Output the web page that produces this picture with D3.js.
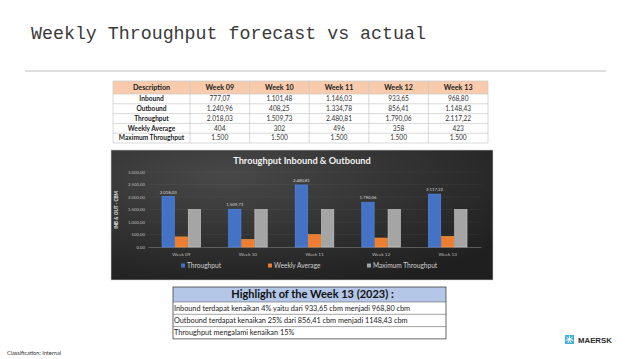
<!DOCTYPE html>
<html>
<head>
<meta charset="utf-8">
<script src="https://cdn.jsdelivr.net/npm/d3@7"></script>
<style>
  body { margin: 0; background: #fff; }
  svg { display: block; }
</style>
</head>
<body>
<script>
// data
var weeks = ["Week 09", "Week 10", "Week 11", "Week 12", "Week 13"];
var inbound = [777.07, 1101.48, 1146.03, 933.65, 968.80];
var outbound = [1240.96, 408.25, 1334.78, 856.41, 1148.43];
var throughput = [2018.03, 1509.73, 2480.81, 1790.06, 2117.22];
var weeklyAverage = [404, 302, 496, 358, 423];
var maxThroughput = [1500, 1500, 1500, 1500, 1500];
var yTicks = [0, 500, 1000, 1500, 2000, 2500, 3000];
var seriesNames = ["Throughput", "Weekly Average", "Maximum Throughput"];
var seriesColors = ["#4472C4", "#ED7D31", "#A5A5A5"];
var notes = [
    "Inbound terdapat kenaikan 4% yaitu dari 933,65 cbm menjadi 968,80 cbm",
    "Outbound terdapat kenaikan 25%  dari 856,41 cbm menjadi 1148,43 cbm",
    "Throughput mengalami kenaikan 15%"
];

var width = 638;
var height = 359;
var font = "Lato, 'Open Sans', sans-serif";

var idLocale = d3.formatLocale({decimal: ",", thousands: ".", grouping: [3], currency: ["", ""]});
var fmt2 = idLocale.format(",.2f");
var fmt0 = idLocale.format(",d");

var svg = d3.select("body")
    .append("svg")
    .attr("width", width)
    .attr("height", height);

// slide title + rule
svg.append("text")
    .attr("x", 31)
    .attr("y", 39)
    .attr("font-family", "'Liberation Mono', 'DejaVu Sans Mono', monospace")
    .attr("font-size", "18.3px")
    .attr("fill", "#3a3a3a")
    .text("Weekly Throughput forecast vs actual");

svg.append("line")
    .attr("x1", 25).attr("x2", 606)
    .attr("y1", 71).attr("y2", 71)
    .attr("stroke", "#d4d4d4")
    .attr("stroke-width", 1.5);

// ---- table ----
var tableRows = [
    {label: "Inbound", values: inbound, f: fmt2},
    {label: "Outbound", values: outbound, f: fmt2},
    {label: "Throughput", values: throughput, f: fmt2},
    {label: "Weekly Average", values: weeklyAverage, f: fmt0},
    {label: "Maximum Throughput", values: maxThroughput, f: fmt0}
];

var tLeft = 113, tRight = 488, descW = 77;
var tTop = 81, headH = 13, rowH = 9.8;
var colX = d3.scaleBand().domain(weeks).range([tLeft + descW, tRight]);

var table = svg.append("g");

table.append("rect")
    .attr("x", tLeft).attr("y", tTop)
    .attr("width", tRight - tLeft).attr("height", headH)
    .attr("fill", "#F8CBAD");

table.append("rect")
    .attr("x", tLeft).attr("y", tTop + headH)
    .attr("width", tRight - tLeft).attr("height", rowH * tableRows.length)
    .attr("fill", "#ffffff");

// grid lines of table
var hLines = [tTop];
for (var i = 0; i <= tableRows.length; i++) hLines.push(tTop + headH + i * rowH);
table.selectAll("line.h")
    .data(hLines)
    .enter()
    .append("line")
    .attr("class", "h")
    .attr("x1", tLeft).attr("x2", tRight)
    .attr("y1", function (d) { return d; })
    .attr("y2", function (d) { return d; })
    .attr("stroke", "#c8c8c8")
    .attr("stroke-width", 0.7);

var vLines = [tLeft, tLeft + descW].concat(weeks.map(function (w) { return colX(w) + colX.bandwidth(); }));
table.selectAll("line.v")
    .data(vLines)
    .enter()
    .append("line")
    .attr("class", "v")
    .attr("y1", tTop).attr("y2", tTop + headH + rowH * tableRows.length)
    .attr("x1", function (d) { return d; })
    .attr("x2", function (d) { return d; })
    .attr("stroke", "#c8c8c8")
    .attr("stroke-width", 0.7);

table.append("text")
    .attr("x", tLeft + descW / 2)
    .attr("y", tTop + headH / 2 + 2.5)
    .attr("text-anchor", "middle")
    .attr("font-family", font)
    .attr("font-size", "7.2px")
    .attr("font-weight", "bold")
    .attr("fill", "#222")
    .text("Description");

table.selectAll("text.head")
    .data(weeks)
    .enter()
    .append("text")
    .attr("class", "head")
    .attr("x", function (d) { return colX(d) + colX.bandwidth() / 2; })
    .attr("y", tTop + headH / 2 + 2.5)
    .attr("text-anchor", "middle")
    .attr("font-family", font)
    .attr("font-size", "7.2px")
    .attr("font-weight", "bold")
    .attr("fill", "#222")
    .text(function (d) { return d; });

var rowG = table.selectAll("g.row")
    .data(tableRows)
    .enter()
    .append("g")
    .attr("class", "row")
    .attr("transform", function (d, i) { return "translate(0," + (tTop + headH + i * rowH) + ")"; });

rowG.append("text")
    .attr("x", tLeft + descW / 2)
    .attr("y", rowH / 2 + 2.3)
    .attr("text-anchor", "middle")
    .attr("font-family", font)
    .attr("font-size", "6.6px")
    .attr("font-weight", "bold")
    .attr("fill", "#222")
    .text(function (d) { return d.label; });

rowG.selectAll("text.val")
    .data(function (d) { return d.values.map(function (v, j) { return {w: weeks[j], v: v, f: d.f}; }); })
    .enter()
    .append("text")
    .attr("class", "val")
    .attr("x", function (d) { return colX(d.w) + colX.bandwidth() / 2; })
    .attr("y", rowH / 2 + 2.3)
    .attr("text-anchor", "middle")
    .attr("font-family", font)
    .attr("font-size", "6.6px")
    .attr("fill", "#333")
    .text(function (d) { return d.f(d.v); });

// ---- chart ----
var cLeft = 111, cTop = 150, cW = 382, cH = 130;

var defs = svg.append("defs");
var grad = defs.append("radialGradient")
    .attr("id", "bg")
    .attr("cx", "0.3").attr("cy", "0.2").attr("r", "0.9");
grad.append("stop").attr("offset", "0%").attr("stop-color", "#484848");
grad.append("stop").attr("offset", "100%").attr("stop-color", "#1f1f1f");

var chart = svg.append("g");

chart.append("rect")
    .attr("x", cLeft).attr("y", cTop)
    .attr("width", cW).attr("height", cH)
    .attr("fill", "url(#bg)")
    .attr("stroke", "#d0d0d0")
    .attr("stroke-width", 0.6);

var x = d3.scaleBand()
    .domain(weeks)
    .range([148, 481])
    .paddingInner(0.42)
    .paddingOuter(0.21);

var xSub = d3.scaleBand()
    .domain(seriesNames)
    .range([0, x.bandwidth()])
    .paddingInner(0.06);

var y = d3.scaleLinear()
    .domain([0, 3000])
    .range([247, 172]);

// faint gridlines
chart.selectAll("line.grid")
    .data(yTicks.slice(1))
    .enter()
    .append("line")
    .attr("class", "grid")
    .attr("x1", 148).attr("x2", 481)
    .attr("y1", function (d) { return y(d); })
    .attr("y2", function (d) { return y(d); })
    .attr("stroke", "#ffffff")
    .attr("stroke-opacity", 0.07)
    .attr("stroke-width", 0.6);

var yAxis = d3.axisLeft(y)
    .tickValues(yTicks)
    .tickSize(0)
    .tickPadding(3)
    .tickFormat(fmt2);

chart.append("g")
    .attr("transform", "translate(148,0)")
    .call(yAxis)
    .call(function (g) { g.select(".domain").remove(); })
    .selectAll("text")
    .attr("font-family", font)
    .attr("font-size", "4.3px")
    .attr("fill", "#bfbfbf");

var xAxis = d3.axisBottom(x).tickSize(0).tickPadding(6);
chart.append("g")
    .attr("transform", "translate(0,247)")
    .call(xAxis)
    .call(function (g) {
        g.select(".domain").attr("stroke", "#808080").attr("stroke-width", 0.6);
    })
    .selectAll("text")
    .attr("font-family", font)
    .attr("font-size", "4.6px")
    .attr("fill", "#bfbfbf");

chart.append("text")
    .attr("transform", "translate(118,210) rotate(-90)")
    .attr("text-anchor", "middle")
    .attr("font-family", font)
    .attr("font-size", "4.6px")
    .attr("font-weight", "bold")
    .attr("fill", "#e0e0e0")
    .text("INB & OUT - CBM");

chart.append("text")
    .attr("x", 302)
    .attr("y", 164)
    .attr("text-anchor", "middle")
    .attr("font-family", font)
    .attr("font-size", "9.2px")
    .attr("font-weight", "bold")
    .attr("fill", "#f2f2f2")
    .text("Throughput Inbound & Outbound");

var barData = weeks.map(function (w, i) {
    return {
        week: w,
        vals: [
            {s: seriesNames[0], v: throughput[i], c: seriesColors[0]},
            {s: seriesNames[1], v: weeklyAverage[i], c: seriesColors[1]},
            {s: seriesNames[2], v: maxThroughput[i], c: seriesColors[2]}
        ]
    };
});

var groups = chart.selectAll("g.week")
    .data(barData)
    .enter()
    .append("g")
    .attr("class", "week")
    .attr("transform", function (d) { return "translate(" + x(d.week) + ",0)"; });

groups.selectAll("rect")
    .data(function (d) { return d.vals; })
    .enter()
    .append("rect")
    .attr("x", function (d) { return xSub(d.s); })
    .attr("width", xSub.bandwidth())
    .attr("y", function (d) { return y(d.v); })
    .attr("height", function (d) { return y(0) - y(d.v); })
    .attr("fill", function (d) { return d.c; })
    .attr("stroke", function (d) { return d3.color(d.c).brighter(0.6); })
    .attr("stroke-width", 0.6);

// data labels on throughput bars
groups.append("text")
    .attr("x", xSub(seriesNames[0]) + xSub.bandwidth() / 2)
    .attr("y", function (d) { return y(d.vals[0].v) - 3; })
    .attr("text-anchor", "middle")
    .attr("font-family", font)
    .attr("font-size", "4.3px")
    .attr("fill", "#d9d9d9")
    .text(function (d) { return fmt2(d.vals[0].v); });

// legend
var legendX = [181, 268, 367];
var legend = chart.selectAll("g.legend")
    .data(seriesNames)
    .enter()
    .append("g")
    .attr("class", "legend")
    .attr("transform", function (d, i) { return "translate(" + legendX[i] + ",267)"; });

legend.append("rect")
    .attr("x", 0).attr("y", -3.5)
    .attr("width", 4).attr("height", 4)
    .attr("fill", function (d, i) { return seriesColors[i]; });

legend.append("text")
    .attr("x", 6)
    .attr("y", 0.7)
    .attr("font-family", font)
    .attr("font-size", "6.6px")
    .attr("fill", "#d0d0d0")
    .text(function (d) { return d; });

// ---- highlight box ----
var hLeft = 173, hRight = 446, hTop = 287, hHeadH = 15, hRowH = 12.3;
var hl = svg.append("g");

hl.append("rect")
    .attr("x", hLeft).attr("y", hTop)
    .attr("width", hRight - hLeft).attr("height", hHeadH)
    .attr("fill", "#B4C7E7");

hl.append("rect")
    .attr("x", hLeft).attr("y", hTop)
    .attr("width", hRight - hLeft).attr("height", hHeadH + hRowH * notes.length)
    .attr("fill", "none")
    .attr("stroke", "#444")
    .attr("stroke-width", 0.8);

hl.append("text")
    .attr("x", (hLeft + hRight) / 2 + 3)
    .attr("y", hTop + 11)
    .attr("text-anchor", "middle")
    .attr("font-family", font)
    .attr("font-size", "11px")
    .attr("font-weight", "bold")
    .attr("fill", "#111")
    .text("Highlight of the Week 13 (2023) :");

hl.selectAll("line.sep")
    .data(notes)
    .enter()
    .append("line")
    .attr("class", "sep")
    .attr("x1", hLeft).attr("x2", hRight)
    .attr("y1", function (d, i) { return hTop + hHeadH + i * hRowH; })
    .attr("y2", function (d, i) { return hTop + hHeadH + i * hRowH; })
    .attr("stroke", "#666")
    .attr("stroke-width", 0.6);

hl.selectAll("text.note")
    .data(notes)
    .enter()
    .append("text")
    .attr("class", "note")
    .attr("x", hLeft + 1)
    .attr("y", function (d, i) { return hTop + hHeadH + i * hRowH + 8.6; })
    .attr("font-family", font)
    .attr("font-size", "7.3px")
    .attr("fill", "#222")
    .text(function (d) { return d; });

// footer
svg.append("text")
    .attr("x", 7)
    .attr("y", 355)
    .attr("font-family", font)
    .attr("font-size", "5.6px")
    .attr("fill", "#333")
    .text("Classification: Internal");

var logo = svg.append("g").attr("transform", "translate(565,335)");
logo.append("rect")
    .attr("width", 9).attr("height", 9)
    .attr("fill", "#42B0D5");
var star = d3.range(7).map(function (k) { return k * Math.PI * 2 / 7; });
logo.selectAll("line")
    .data(star)
    .enter()
    .append("line")
    .attr("x1", 4.5).attr("y1", 4.5)
    .attr("x2", function (a) { return 4.5 + 3.4 * Math.sin(a); })
    .attr("y2", function (a) { return 4.5 - 3.4 * Math.cos(a); })
    .attr("stroke", "#fff")
    .attr("stroke-width", 1)
    .attr("stroke-linecap", "round");

svg.append("text")
    .attr("x", 578)
    .attr("y", 342.5)
    .attr("font-family", "'Liberation Sans', Arial, sans-serif")
    .attr("font-size", "7.8px")
    .attr("font-weight", "bold")
    .attr("fill", "#2b2b2b")
    .text("MAERSK");
</script>
</body>
</html>
